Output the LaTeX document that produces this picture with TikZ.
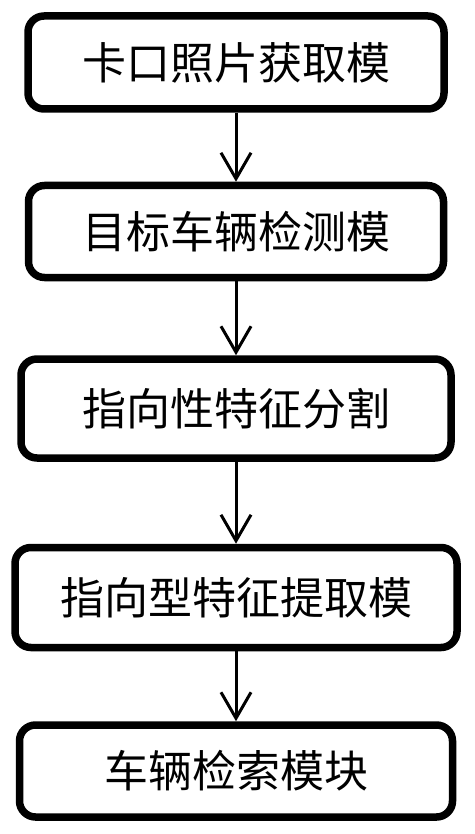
\documentclass[tikz,border=0pt]{standalone}
\usepackage{fontspec}
\usepackage{xcolor}
\usepackage{tikz}
\usetikzlibrary{arrows.meta,positioning}
\newfontfamily\cjk{Noto Sans CJK SC}

\begin{document}
\begin{tikzpicture}[
  x=1pt,y=1pt,
  node distance=70pt,
  box/.style={rectangle,rounded corners=16pt,draw=black,fill=white,line width=7.5pt,align=center,font=\cjk\fontsize{44}{52}\selectfont},
  arrow/.style={-{Straight Barb[length=26pt,width=30pt,line width=3pt]},line width=3pt,color=black}
]
\useasboundingbox (0,0) rectangle (474,-834);
\node[box,minimum width=416pt,minimum height=93pt] (photo) at (236,-62.5) {卡口照片获取模};
\node[box,minimum width=415pt,minimum height=92pt,below=69pt of photo] (detect) {目标车辆检测模};
\node[box,minimum width=430pt,minimum height=99pt,below=74pt of detect] (segment) {指向性特征分割};
\node[box,minimum width=442pt,minimum height=100pt,below=82pt of segment] (extract) {指向型特征提取模};
\node[box,minimum width=433pt,minimum height=92pt,below=70pt of extract] (search) {车辆检索模块};
\draw[arrow] (photo) -- (detect);
\draw[arrow] (detect) -- (segment);
\draw[arrow] (segment) -- (extract);
\draw[arrow] (extract) -- (search);
\end{tikzpicture}
\end{document}
